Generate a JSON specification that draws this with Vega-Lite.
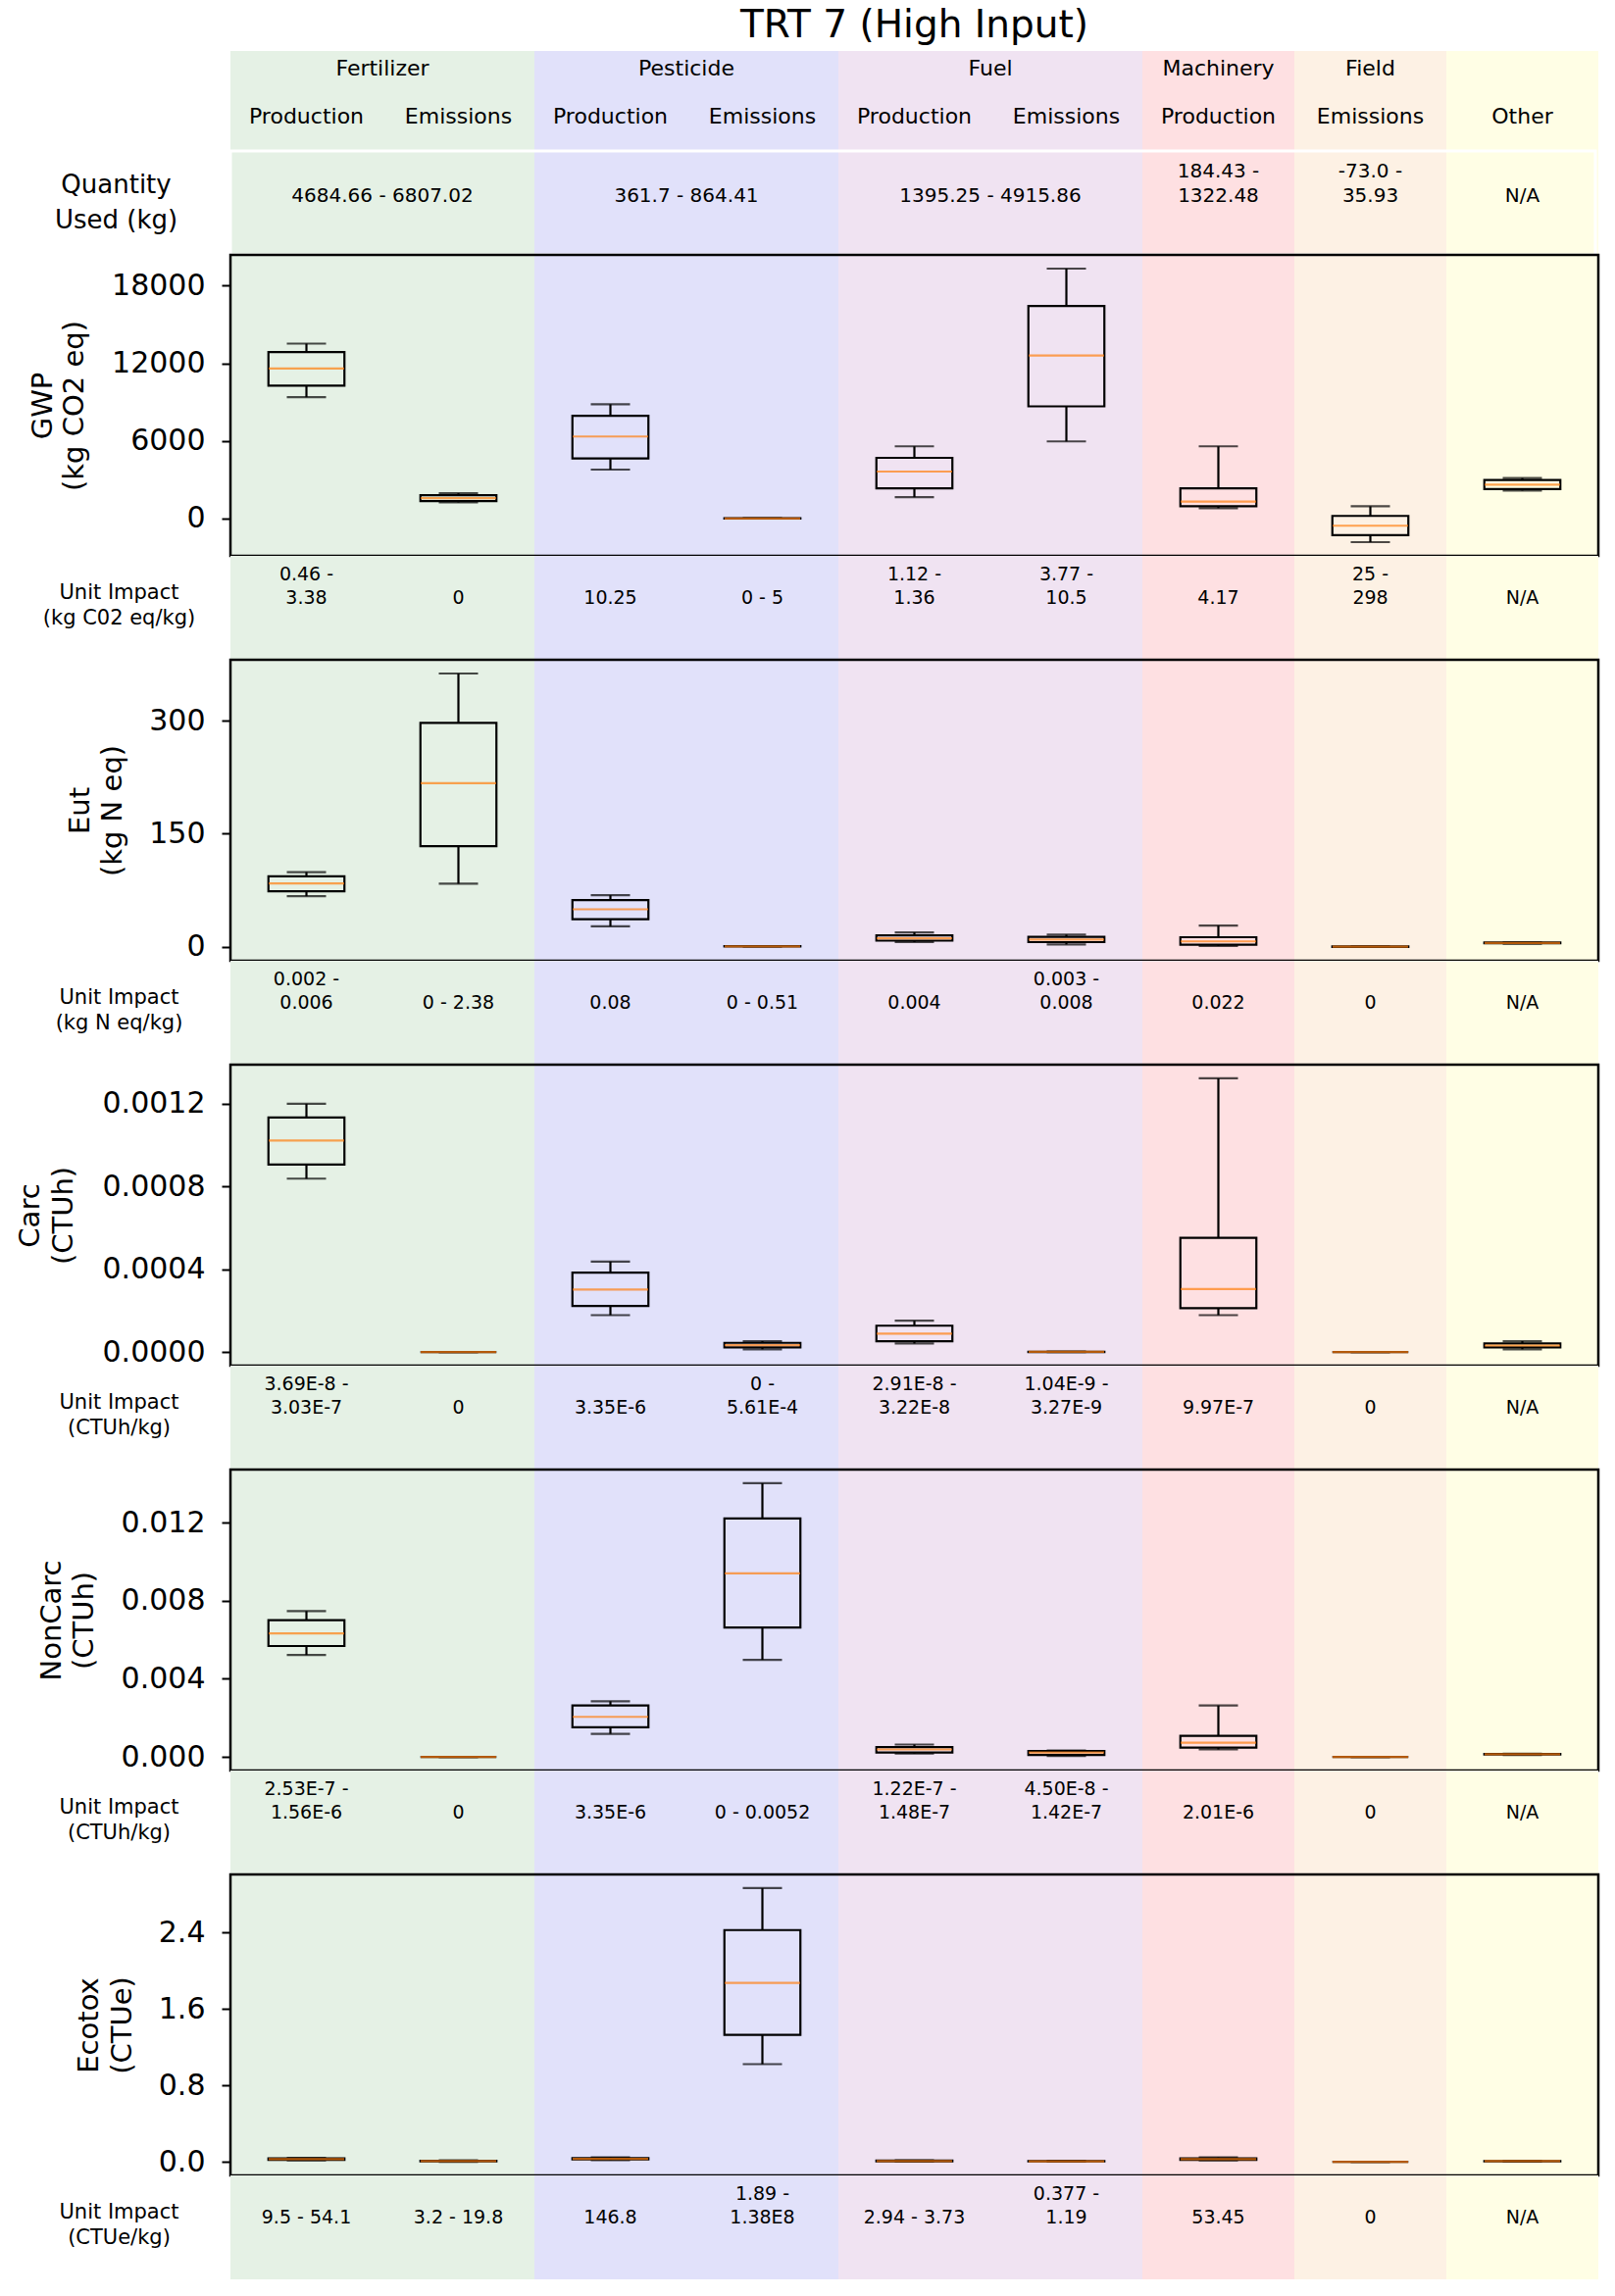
{
"$schema": "https://vega.github.io/schema/vega-lite/v6.json",
"background": "white",
"padding": {"left": 16, "top": 6, "right": 5, "bottom": 5},
"spacing": 0,
"bounds": "flush",
"title": {"text": "TRT 7 (High Input)", "font": "DejaVu Sans", "fontSize": 39, "fontWeight": "normal", "color": "black", "anchor": "middle", "frame": "group", "offset": 6.5},
"config": {"view": {"stroke": null}, "text": {"font": "DejaVu Sans", "color": "black"}},
"datasets": {
"bg": [{"col":"FP","grp":"Fertilizer"},{"col":"FE","grp":"Fertilizer"},{"col":"PP","grp":"Pesticide"},{"col":"PE","grp":"Pesticide"},{"col":"FuP","grp":"Fuel"},{"col":"FuE","grp":"Fuel"},{"col":"MP","grp":"Machinery"},{"col":"FdE","grp":"Field"},{"col":"O","grp":"Other"}],
"frame": [{"f": 1}],
"grp2": [{"col":"FP","label":"Fertilizer","qty":"4684.66 - 6807.02"},{"col":"PP","label":"Pesticide","qty":"361.7 - 864.41"},{"col":"FuP","label":"Fuel","qty":"1395.25 - 4915.86"}],
"grp1": [{"col":"MP","label":"Machinery","qty":"184.43 -\n1322.48"},{"col":"FdE","label":"Field","qty":"-73.0 -\n35.93"},{"col":"O","label":"","qty":"N/A"}],
"subs": [{"col":"FP","sub":"Production"},{"col":"FE","sub":"Emissions"},{"col":"PP","sub":"Production"},{"col":"PE","sub":"Emissions"},{"col":"FuP","sub":"Production"},{"col":"FuE","sub":"Emissions"},{"col":"MP","sub":"Production"},{"col":"FdE","sub":"Emissions"},{"col":"O","sub":"Other"}],
"boxes": [
{"impact":"GWP","col":"FP","lo":9380,"q1":10270,"med":11590,"q3":12860,"hi":13520},
{"impact":"GWP","col":"FE","lo":1250,"q1":1350,"med":1570,"q3":1800,"hi":1950},
{"impact":"GWP","col":"PP","lo":3780,"q1":4640,"med":6340,"q3":7940,"hi":8830},
{"impact":"GWP","col":"PE","lo":0,"q1":0,"med":5,"q3":15,"hi":30},
{"impact":"GWP","col":"FuP","lo":1650,"q1":2330,"med":3630,"q3":4690,"hi":5580},
{"impact":"GWP","col":"FuE","lo":5960,"q1":8670,"med":12600,"q3":16430,"hi":19320},
{"impact":"GWP","col":"MP","lo":800,"q1":950,"med":1300,"q3":2330,"hi":5580},
{"impact":"GWP","col":"FdE","lo":-1830,"q1":-1290,"med":-560,"q3":200,"hi":940},
{"impact":"GWP","col":"O","lo":2160,"q1":2280,"med":2610,"q3":2970,"hi":3120},
{"impact":"Eut","col":"FP","lo":67,"q1":73.5,"med":84,"q3":93.5,"hi":99},
{"impact":"Eut","col":"FE","lo":83.5,"q1":133.5,"med":217,"q3":297,"hi":362.6},
{"impact":"Eut","col":"PP","lo":27,"q1":36.5,"med":49.6,"q3":61.7,"hi":68.3},
{"impact":"Eut","col":"PE","lo":0,"q1":0.2,"med":0.4,"q3":0.6,"hi":0.8},
{"impact":"Eut","col":"FuP","lo":6,"q1":8,"med":11,"q3":15,"hi":19},
{"impact":"Eut","col":"FuE","lo":3,"q1":6,"med":9.5,"q3":13,"hi":16},
{"impact":"Eut","col":"MP","lo":1,"q1":2.5,"med":7,"q3":12.5,"hi":28},
{"impact":"Eut","col":"FdE","lo":-0.5,"q1":-0.3,"med":0,"q3":0.3,"hi":0.5},
{"impact":"Eut","col":"O","lo":4,"q1":4.5,"med":5,"q3":5.5,"hi":6},
{"impact":"Carc","col":"FP","lo":0.000838,"q1":0.000906,"med":0.001022,"q3":0.001134,"hi":0.0012},
{"impact":"Carc","col":"FE","lo":0,"q1":0,"med":0,"q3":0,"hi":0},
{"impact":"Carc","col":"PP","lo":0.000178,"q1":0.000222,"med":0.000302,"q3":0.000384,"hi":0.000437},
{"impact":"Carc","col":"PE","lo":0.000013,"q1":0.000022,"med":0.000033,"q3":0.000044,"hi":0.000052},
{"impact":"Carc","col":"FuP","lo":0.000041,"q1":0.000052,"med":0.000088,"q3":0.000127,"hi":0.000151},
{"impact":"Carc","col":"FuE","lo":0,"q1":0,"med":0.0000005,"q3":0.000001,"hi":0.0000015},
{"impact":"Carc","col":"MP","lo":0.000178,"q1":0.000212,"med":0.000304,"q3":0.000552,"hi":0.001323},
{"impact":"Carc","col":"FdE","lo":0,"q1":0,"med":0,"q3":0,"hi":0},
{"impact":"Carc","col":"O","lo":0.000013,"q1":0.000022,"med":0.000031,"q3":0.000041,"hi":0.000052},
{"impact":"NonCarc","col":"FP","lo":0.00522,"q1":0.00568,"med":0.00633,"q3":0.0070,"hi":0.00747},
{"impact":"NonCarc","col":"FE","lo":0,"q1":0,"med":0,"q3":0,"hi":0},
{"impact":"NonCarc","col":"PP","lo":0.00118,"q1":0.00152,"med":0.00205,"q3":0.00263,"hi":0.00285},
{"impact":"NonCarc","col":"PE","lo":0.00497,"q1":0.00663,"med":0.0094,"q3":0.01222,"hi":0.01402},
{"impact":"NonCarc","col":"FuP","lo":0.00017,"q1":0.00022,"med":0.00038,"q3":0.0005,"hi":0.00063},
{"impact":"NonCarc","col":"FuE","lo":0.00005,"q1":0.0001,"med":0.00022,"q3":0.0003,"hi":0.00033},
{"impact":"NonCarc","col":"MP","lo":0.00038,"q1":0.00047,"med":0.00072,"q3":0.00108,"hi":0.00263},
{"impact":"NonCarc","col":"FdE","lo":0,"q1":0,"med":0,"q3":0,"hi":0},
{"impact":"NonCarc","col":"O","lo":0.0001,"q1":0.00012,"med":0.00013,"q3":0.00015,"hi":0.00016},
{"impact":"Ecotox","col":"FP","lo":0.015,"q1":0.02,"med":0.027,"q3":0.035,"hi":0.04},
{"impact":"Ecotox","col":"FE","lo":0,"q1":0.003,"med":0.006,"q3":0.01,"hi":0.015},
{"impact":"Ecotox","col":"PP","lo":0.018,"q1":0.024,"med":0.03,"q3":0.038,"hi":0.045},
{"impact":"Ecotox","col":"PE","lo":1.021,"q1":1.328,"med":1.872,"q3":2.424,"hi":2.863},
{"impact":"Ecotox","col":"FuP","lo":0.002,"q1":0.005,"med":0.008,"q3":0.012,"hi":0.015},
{"impact":"Ecotox","col":"FuE","lo":0.001,"q1":0.003,"med":0.005,"q3":0.008,"hi":0.01},
{"impact":"Ecotox","col":"MP","lo":0.015,"q1":0.02,"med":0.027,"q3":0.035,"hi":0.045},
{"impact":"Ecotox","col":"FdE","lo":0,"q1":0,"med":0,"q3":0,"hi":0},
{"impact":"Ecotox","col":"O","lo":0.002,"q1":0.004,"med":0.006,"q3":0.008,"hi":0.01}
],
"units": [
{"impact":"GWP","col":"FP","txt":"0.46 -\n3.38"},{"impact":"GWP","col":"FE","txt":"0"},{"impact":"GWP","col":"PP","txt":"10.25"},{"impact":"GWP","col":"PE","txt":"0 - 5"},{"impact":"GWP","col":"FuP","txt":"1.12 -\n1.36"},{"impact":"GWP","col":"FuE","txt":"3.77 -\n10.5"},{"impact":"GWP","col":"MP","txt":"4.17"},{"impact":"GWP","col":"FdE","txt":"25 -\n298"},{"impact":"GWP","col":"O","txt":"N/A"},
{"impact":"Eut","col":"FP","txt":"0.002 -\n0.006"},{"impact":"Eut","col":"FE","txt":"0 - 2.38"},{"impact":"Eut","col":"PP","txt":"0.08"},{"impact":"Eut","col":"PE","txt":"0 - 0.51"},{"impact":"Eut","col":"FuP","txt":"0.004"},{"impact":"Eut","col":"FuE","txt":"0.003 -\n0.008"},{"impact":"Eut","col":"MP","txt":"0.022"},{"impact":"Eut","col":"FdE","txt":"0"},{"impact":"Eut","col":"O","txt":"N/A"},
{"impact":"Carc","col":"FP","txt":"3.69E-8 -\n3.03E-7"},{"impact":"Carc","col":"FE","txt":"0"},{"impact":"Carc","col":"PP","txt":"3.35E-6"},{"impact":"Carc","col":"PE","txt":"0 -\n5.61E-4"},{"impact":"Carc","col":"FuP","txt":"2.91E-8 -\n3.22E-8"},{"impact":"Carc","col":"FuE","txt":"1.04E-9 -\n3.27E-9"},{"impact":"Carc","col":"MP","txt":"9.97E-7"},{"impact":"Carc","col":"FdE","txt":"0"},{"impact":"Carc","col":"O","txt":"N/A"},
{"impact":"NonCarc","col":"FP","txt":"2.53E-7 -\n1.56E-6"},{"impact":"NonCarc","col":"FE","txt":"0"},{"impact":"NonCarc","col":"PP","txt":"3.35E-6"},{"impact":"NonCarc","col":"PE","txt":"0 - 0.0052"},{"impact":"NonCarc","col":"FuP","txt":"1.22E-7 -\n1.48E-7"},{"impact":"NonCarc","col":"FuE","txt":"4.50E-8 -\n1.42E-7"},{"impact":"NonCarc","col":"MP","txt":"2.01E-6"},{"impact":"NonCarc","col":"FdE","txt":"0"},{"impact":"NonCarc","col":"O","txt":"N/A"},
{"impact":"Ecotox","col":"FP","txt":"9.5 - 54.1"},{"impact":"Ecotox","col":"FE","txt":"3.2 - 19.8"},{"impact":"Ecotox","col":"PP","txt":"146.8"},{"impact":"Ecotox","col":"PE","txt":"1.89 -\n1.38E8"},{"impact":"Ecotox","col":"FuP","txt":"2.94 - 3.73"},{"impact":"Ecotox","col":"FuE","txt":"0.377 -\n1.19"},{"impact":"Ecotox","col":"MP","txt":"53.45"},{"impact":"Ecotox","col":"FdE","txt":"0"},{"impact":"Ecotox","col":"O","txt":"N/A"}
]
},
"vconcat": [
{"width": 1395, "height": 102,
 "layer": [
  {"data": {"name": "bg"}, "mark": {"type": "rect"}, "encoding": {"x": {"field":"col","type":"nominal","scale":{"type":"band","domain":["FP","FE","PP","PE","FuP","FuE","MP","FdE","O"],"paddingInner":0,"paddingOuter":0},"axis":null}, "color": {"field":"grp","type":"nominal","scale":{"domain":["Fertilizer","Pesticide","Fuel","Machinery","Field","Other"],"range":["#e5f1e5","#e1e1fa","#f0e3f2","#fee0e2","#fdf1e4","#fffee5"]},"legend":null}}},
  {"data": {"name": "grp2"}, "mark": {"type": "text", "fontSize": 22, "dy": -33}, "encoding": {"x": {"field":"col","type":"nominal","bandPosition":1,"scale":{"type":"band","domain":["FP","FE","PP","PE","FuP","FuE","MP","FdE","O"],"paddingInner":0,"paddingOuter":0},"axis":null}, "text": {"field": "label"}}},
  {"data": {"name": "grp1"}, "mark": {"type": "text", "fontSize": 22, "dy": -33}, "encoding": {"x": {"field":"col","type":"nominal","scale":{"type":"band","domain":["FP","FE","PP","PE","FuP","FuE","MP","FdE","O"],"paddingInner":0,"paddingOuter":0},"axis":null}, "text": {"field": "label"}}},
  {"data": {"name": "subs"}, "mark": {"type": "text", "fontSize": 22, "dy": 16}, "encoding": {"x": {"field":"col","type":"nominal","scale":{"type":"band","domain":["FP","FE","PP","PE","FuP","FuE","MP","FdE","O"],"paddingInner":0,"paddingOuter":0},"axis":null}, "text": {"field": "sub"}}}
 ]},
{"width": 1395, "height": 106,
 "layer": [
  {"data": {"name": "bg"}, "mark": {"type": "rect"}, "encoding": {"x": {"field":"col","type":"nominal","scale":{"type":"band","domain":["FP","FE","PP","PE","FuP","FuE","MP","FdE","O"],"paddingInner":0,"paddingOuter":0},"axis":null}, "color": {"field":"grp","type":"nominal","scale":{"domain":["Fertilizer","Pesticide","Fuel","Machinery","Field","Other"],"range":["#e5f1e5","#e1e1fa","#f0e3f2","#fee0e2","#fdf1e4","#fffee5"]},"legend":null}}},
  {"data": {"name": "grp2"}, "mark": {"type": "text", "fontSize": 20, "baseline": "bottom", "dy": 3}, "encoding": {"x": {"field":"col","type":"nominal","bandPosition":1,"scale":{"type":"band","domain":["FP","FE","PP","PE","FuP","FuE","MP","FdE","O"],"paddingInner":0,"paddingOuter":0},"axis":null}, "y": {"datum": "q", "type": "nominal", "axis": {"title": ["Quantity", "Used (kg)"], "labels": false, "ticks": false, "domain": false, "grid": false, "titleAngle": 0, "titleAlign": "center", "titleBaseline": "middle", "titleX": -117, "titleY": 34, "titleFont": "DejaVu Sans", "titleFontSize": 26, "titleLineHeight": 36, "titleFontWeight": "normal", "titleColor": "black"}}, "text": {"field": "qty"}}},
  {"data": {"name": "grp1"}, "transform": [{"filter": "indexof(datum.qty, '\\n') < 0"}], "mark": {"type": "text", "fontSize": 20, "lineHeight": 25, "lineBreak": "\n", "baseline": "bottom", "dy": 3}, "encoding": {"x": {"field":"col","type":"nominal","scale":{"type":"band","domain":["FP","FE","PP","PE","FuP","FuE","MP","FdE","O"],"paddingInner":0,"paddingOuter":0},"axis":null}, "y": {"datum": "q", "type": "nominal", "axis": {"title": ["Quantity", "Used (kg)"], "labels": false, "ticks": false, "domain": false, "grid": false, "titleAngle": 0, "titleAlign": "center", "titleBaseline": "middle", "titleX": -117, "titleY": 34, "titleFont": "DejaVu Sans", "titleFontSize": 26, "titleLineHeight": 36, "titleFontWeight": "normal", "titleColor": "black"}}, "text": {"field": "qty"}}},
  {"data": {"name": "grp1"}, "transform": [{"filter": "indexof(datum.qty, '\\n') >= 0"}], "mark": {"type": "text", "fontSize": 20, "lineHeight": 25, "lineBreak": "\n", "baseline": "bottom", "dy": -22}, "encoding": {"x": {"field":"col","type":"nominal","scale":{"type":"band","domain":["FP","FE","PP","PE","FuP","FuE","MP","FdE","O"],"paddingInner":0,"paddingOuter":0},"axis":null}, "y": {"datum": "q", "type": "nominal", "axis": {"title": ["Quantity", "Used (kg)"], "labels": false, "ticks": false, "domain": false, "grid": false, "titleAngle": 0, "titleAlign": "center", "titleBaseline": "middle", "titleX": -117, "titleY": 34, "titleFont": "DejaVu Sans", "titleFontSize": 26, "titleLineHeight": 36, "titleFontWeight": "normal", "titleColor": "black"}}, "text": {"field": "qty"}}},
  {"data": {"name": "frame"}, "mark": {"type": "rect", "fill": "transparent", "stroke": "white", "strokeWidth": 3, "xOffset": -3, "x2Offset": 3, "y2Offset": 3}, "encoding": {}}
 ]},
{"width": 1395, "height": 307,
 "layer": [
  {"data": {"name": "bg"}, "mark": {"type": "rect"}, "encoding": {"x": {"field":"col","type":"nominal","scale":{"type":"band","domain":["FP","FE","PP","PE","FuP","FuE","MP","FdE","O"],"paddingInner":0,"paddingOuter":0},"axis":null}, "color": {"field":"grp","type":"nominal","scale":{"domain":["Fertilizer","Pesticide","Fuel","Machinery","Field","Other"],"range":["#e5f1e5","#e1e1fa","#f0e3f2","#fee0e2","#fdf1e4","#fffee5"]},"legend":null}}},
  {"data": {"name": "boxes"}, "transform": [{"filter": "datum.impact === 'GWP'"}],
   "encoding": {"x": {"field":"col","type":"nominal","scale":{"type":"band","domain":["FP","FE","PP","PE","FuP","FuE","MP","FdE","O"],"paddingInner":0,"paddingOuter":0},"axis":null}},
   "layer": [
    {"mark": {"type": "rule", "color": "black", "strokeWidth": 2.2}, "encoding": {"y": {"field": "lo", "type": "quantitative", "scale": {"domain": [-2890, 20380], "nice": false, "zero": false}, "axis": {"values": [0, 6000, 12000, 18000], "format": "d", "title": ["GWP", "(kg CO2 eq)"], "grid": false, "domain": false, "tickColor": "black", "tickSize": 9, "tickWidth": 2, "labelColor": "black", "labelFont": "DejaVu Sans", "labelFontSize": 30, "labelPadding": 17, "labelOverlap": false, "titleFont": "DejaVu Sans", "titleFontSize": 29, "titleFontWeight": "normal", "titleColor": "black", "titlePadding": 23, "titleLineHeight": 32}}, "y2": {"field": "q1"}}},
    {"mark": {"type": "rule", "color": "black", "strokeWidth": 2.2}, "encoding": {"y": {"field": "q3", "type": "quantitative"}, "y2": {"field": "hi"}}},
    {"mark": {"type": "bar", "fill": "transparent", "stroke": "black", "strokeWidth": 2.2, "width": {"band": 0.5}}, "encoding": {"y": {"field": "q1", "type": "quantitative"}, "y2": {"field": "q3"}}},
    {"mark": {"type": "tick", "color": "black", "thickness": 2.2, "size": 40}, "encoding": {"y": {"field": "lo", "type": "quantitative"}}},
    {"mark": {"type": "tick", "color": "black", "thickness": 2.2, "size": 40}, "encoding": {"y": {"field": "hi", "type": "quantitative"}}},
    {"mark": {"type": "tick", "color": "#ff7f0e", "thickness": 2.2, "size": 77}, "encoding": {"y": {"field": "med", "type": "quantitative"}}}
   ]},
  {"data": {"name": "frame"}, "mark": {"type": "rect", "fill": "transparent", "stroke": "black", "strokeWidth": 2.5, "y2Offset": -1}, "encoding": {}}
 ]},
{"width": 1395, "height": 106,
 "layer": [
  {"data": {"name": "bg"}, "mark": {"type": "rect"}, "encoding": {"x": {"field":"col","type":"nominal","scale":{"type":"band","domain":["FP","FE","PP","PE","FuP","FuE","MP","FdE","O"],"paddingInner":0,"paddingOuter":0},"axis":null}, "color": {"field":"grp","type":"nominal","scale":{"domain":["Fertilizer","Pesticide","Fuel","Machinery","Field","Other"],"range":["#e5f1e5","#e1e1fa","#f0e3f2","#fee0e2","#fdf1e4","#fffee5"]},"legend":null}}},
  {"data": {"name": "units"}, "transform": [{"filter": "datum.impact === 'GWP' && indexof(datum.txt, '\\n') < 0"}], "mark": {"type": "text", "fontSize": 19, "lineHeight": 24, "lineBreak": "\n", "baseline": "bottom", "dy": 0}, "encoding": {"x": {"field":"col","type":"nominal","scale":{"type":"band","domain":["FP","FE","PP","PE","FuP","FuE","MP","FdE","O"],"paddingInner":0,"paddingOuter":0},"axis":null}, "y": {"datum": "u", "type": "nominal", "axis": {"title": ["Unit Impact", "(kg C02 eq/kg)"], "labels": false, "ticks": false, "domain": false, "grid": false, "titleAngle": 0, "titleAlign": "center", "titleBaseline": "middle", "titleX": -114, "titleY": 37, "titleFont": "DejaVu Sans", "titleFontSize": 21, "titleLineHeight": 26, "titleFontWeight": "normal", "titleColor": "black"}}, "text": {"field": "txt"}}},
  {"data": {"name": "units"}, "transform": [{"filter": "datum.impact === 'GWP' && indexof(datum.txt, '\\n') >= 0"}], "mark": {"type": "text", "fontSize": 19, "lineHeight": 24, "lineBreak": "\n", "baseline": "bottom", "dy": -24}, "encoding": {"x": {"field":"col","type":"nominal","scale":{"type":"band","domain":["FP","FE","PP","PE","FuP","FuE","MP","FdE","O"],"paddingInner":0,"paddingOuter":0},"axis":null}, "y": {"datum": "u", "type": "nominal", "axis": {"title": ["Unit Impact", "(kg C02 eq/kg)"], "labels": false, "ticks": false, "domain": false, "grid": false, "titleAngle": 0, "titleAlign": "center", "titleBaseline": "middle", "titleX": -114, "titleY": 37, "titleFont": "DejaVu Sans", "titleFontSize": 21, "titleLineHeight": 26, "titleFontWeight": "normal", "titleColor": "black"}}, "text": {"field": "txt"}}}
 ]},
{"width": 1395, "height": 307,
 "layer": [
  {"data": {"name": "bg"}, "mark": {"type": "rect"}, "encoding": {"x": {"field":"col","type":"nominal","scale":{"type":"band","domain":["FP","FE","PP","PE","FuP","FuE","MP","FdE","O"],"paddingInner":0,"paddingOuter":0},"axis":null}, "color": {"field":"grp","type":"nominal","scale":{"domain":["Fertilizer","Pesticide","Fuel","Machinery","Field","Other"],"range":["#e5f1e5","#e1e1fa","#f0e3f2","#fee0e2","#fdf1e4","#fffee5"]},"legend":null}}},
  {"data": {"name": "boxes"}, "transform": [{"filter": "datum.impact === 'Eut'"}],
   "encoding": {"x": {"field":"col","type":"nominal","scale":{"type":"band","domain":["FP","FE","PP","PE","FuP","FuE","MP","FdE","O"],"paddingInner":0,"paddingOuter":0},"axis":null}},
   "layer": [
    {"mark": {"type": "rule", "color": "black", "strokeWidth": 2.2}, "encoding": {"y": {"field": "lo", "type": "quantitative", "scale": {"domain": [-18.7, 380.8], "nice": false, "zero": false}, "axis": {"values": [0, 150, 300], "format": "d", "title": ["Eut", "(kg N eq)"], "grid": false, "domain": false, "tickColor": "black", "tickSize": 9, "tickWidth": 2, "labelColor": "black", "labelFont": "DejaVu Sans", "labelFontSize": 30, "labelPadding": 17, "labelOverlap": false, "titleFont": "DejaVu Sans", "titleFontSize": 29, "titleFontWeight": "normal", "titleColor": "black", "titlePadding": 22, "titleLineHeight": 33}}, "y2": {"field": "q1"}}},
    {"mark": {"type": "rule", "color": "black", "strokeWidth": 2.2}, "encoding": {"y": {"field": "q3", "type": "quantitative"}, "y2": {"field": "hi"}}},
    {"mark": {"type": "bar", "fill": "transparent", "stroke": "black", "strokeWidth": 2.2, "width": {"band": 0.5}}, "encoding": {"y": {"field": "q1", "type": "quantitative"}, "y2": {"field": "q3"}}},
    {"mark": {"type": "tick", "color": "black", "thickness": 2.2, "size": 40}, "encoding": {"y": {"field": "lo", "type": "quantitative"}}},
    {"mark": {"type": "tick", "color": "black", "thickness": 2.2, "size": 40}, "encoding": {"y": {"field": "hi", "type": "quantitative"}}},
    {"mark": {"type": "tick", "color": "#ff7f0e", "thickness": 2.2, "size": 77}, "encoding": {"y": {"field": "med", "type": "quantitative"}}}
   ]},
  {"data": {"name": "frame"}, "mark": {"type": "rect", "fill": "transparent", "stroke": "black", "strokeWidth": 2.5, "y2Offset": -1}, "encoding": {}}
 ]},
{"width": 1395, "height": 106,
 "layer": [
  {"data": {"name": "bg"}, "mark": {"type": "rect"}, "encoding": {"x": {"field":"col","type":"nominal","scale":{"type":"band","domain":["FP","FE","PP","PE","FuP","FuE","MP","FdE","O"],"paddingInner":0,"paddingOuter":0},"axis":null}, "color": {"field":"grp","type":"nominal","scale":{"domain":["Fertilizer","Pesticide","Fuel","Machinery","Field","Other"],"range":["#e5f1e5","#e1e1fa","#f0e3f2","#fee0e2","#fdf1e4","#fffee5"]},"legend":null}}},
  {"data": {"name": "units"}, "transform": [{"filter": "datum.impact === 'Eut' && indexof(datum.txt, '\\n') < 0"}], "mark": {"type": "text", "fontSize": 19, "lineHeight": 24, "lineBreak": "\n", "baseline": "bottom", "dy": 0}, "encoding": {"x": {"field":"col","type":"nominal","scale":{"type":"band","domain":["FP","FE","PP","PE","FuP","FuE","MP","FdE","O"],"paddingInner":0,"paddingOuter":0},"axis":null}, "y": {"datum": "u", "type": "nominal", "axis": {"title": ["Unit Impact", "(kg N eq/kg)"], "labels": false, "ticks": false, "domain": false, "grid": false, "titleAngle": 0, "titleAlign": "center", "titleBaseline": "middle", "titleX": -114, "titleY": 37, "titleFont": "DejaVu Sans", "titleFontSize": 21, "titleLineHeight": 26, "titleFontWeight": "normal", "titleColor": "black"}}, "text": {"field": "txt"}}},
  {"data": {"name": "units"}, "transform": [{"filter": "datum.impact === 'Eut' && indexof(datum.txt, '\\n') >= 0"}], "mark": {"type": "text", "fontSize": 19, "lineHeight": 24, "lineBreak": "\n", "baseline": "bottom", "dy": -24}, "encoding": {"x": {"field":"col","type":"nominal","scale":{"type":"band","domain":["FP","FE","PP","PE","FuP","FuE","MP","FdE","O"],"paddingInner":0,"paddingOuter":0},"axis":null}, "y": {"datum": "u", "type": "nominal", "axis": {"title": ["Unit Impact", "(kg N eq/kg)"], "labels": false, "ticks": false, "domain": false, "grid": false, "titleAngle": 0, "titleAlign": "center", "titleBaseline": "middle", "titleX": -114, "titleY": 37, "titleFont": "DejaVu Sans", "titleFontSize": 21, "titleLineHeight": 26, "titleFontWeight": "normal", "titleColor": "black"}}, "text": {"field": "txt"}}}
 ]},
{"width": 1395, "height": 307,
 "layer": [
  {"data": {"name": "bg"}, "mark": {"type": "rect"}, "encoding": {"x": {"field":"col","type":"nominal","scale":{"type":"band","domain":["FP","FE","PP","PE","FuP","FuE","MP","FdE","O"],"paddingInner":0,"paddingOuter":0},"axis":null}, "color": {"field":"grp","type":"nominal","scale":{"domain":["Fertilizer","Pesticide","Fuel","Machinery","Field","Other"],"range":["#e5f1e5","#e1e1fa","#f0e3f2","#fee0e2","#fdf1e4","#fffee5"]},"legend":null}}},
  {"data": {"name": "boxes"}, "transform": [{"filter": "datum.impact === 'Carc'"}],
   "encoding": {"x": {"field":"col","type":"nominal","scale":{"type":"band","domain":["FP","FE","PP","PE","FuP","FuE","MP","FdE","O"],"paddingInner":0,"paddingOuter":0},"axis":null}},
   "layer": [
    {"mark": {"type": "rule", "color": "black", "strokeWidth": 2.2}, "encoding": {"y": {"field": "lo", "type": "quantitative", "scale": {"domain": [-0.0000662, 0.0013892], "nice": false, "zero": false}, "axis": {"values": [0, 0.0004, 0.0008, 0.0012], "format": ".4f", "title": ["Carc", "(CTUh)"], "grid": false, "domain": false, "tickColor": "black", "tickSize": 9, "tickWidth": 2, "labelColor": "black", "labelFont": "DejaVu Sans", "labelFontSize": 30, "labelPadding": 17, "labelOverlap": false, "titleFont": "DejaVu Sans", "titleFontSize": 29, "titleFontWeight": "normal", "titleColor": "black", "titlePadding": 25, "titleLineHeight": 34}}, "y2": {"field": "q1"}}},
    {"mark": {"type": "rule", "color": "black", "strokeWidth": 2.2}, "encoding": {"y": {"field": "q3", "type": "quantitative"}, "y2": {"field": "hi"}}},
    {"mark": {"type": "bar", "fill": "transparent", "stroke": "black", "strokeWidth": 2.2, "width": {"band": 0.5}}, "encoding": {"y": {"field": "q1", "type": "quantitative"}, "y2": {"field": "q3"}}},
    {"mark": {"type": "tick", "color": "black", "thickness": 2.2, "size": 40}, "encoding": {"y": {"field": "lo", "type": "quantitative"}}},
    {"mark": {"type": "tick", "color": "black", "thickness": 2.2, "size": 40}, "encoding": {"y": {"field": "hi", "type": "quantitative"}}},
    {"mark": {"type": "tick", "color": "#ff7f0e", "thickness": 2.2, "size": 77}, "encoding": {"y": {"field": "med", "type": "quantitative"}}}
   ]},
  {"data": {"name": "frame"}, "mark": {"type": "rect", "fill": "transparent", "stroke": "black", "strokeWidth": 2.5, "y2Offset": -1}, "encoding": {}}
 ]},
{"width": 1395, "height": 106,
 "layer": [
  {"data": {"name": "bg"}, "mark": {"type": "rect"}, "encoding": {"x": {"field":"col","type":"nominal","scale":{"type":"band","domain":["FP","FE","PP","PE","FuP","FuE","MP","FdE","O"],"paddingInner":0,"paddingOuter":0},"axis":null}, "color": {"field":"grp","type":"nominal","scale":{"domain":["Fertilizer","Pesticide","Fuel","Machinery","Field","Other"],"range":["#e5f1e5","#e1e1fa","#f0e3f2","#fee0e2","#fdf1e4","#fffee5"]},"legend":null}}},
  {"data": {"name": "units"}, "transform": [{"filter": "datum.impact === 'Carc' && indexof(datum.txt, '\\n') < 0"}], "mark": {"type": "text", "fontSize": 19, "lineHeight": 24, "lineBreak": "\n", "baseline": "bottom", "dy": 0}, "encoding": {"x": {"field":"col","type":"nominal","scale":{"type":"band","domain":["FP","FE","PP","PE","FuP","FuE","MP","FdE","O"],"paddingInner":0,"paddingOuter":0},"axis":null}, "y": {"datum": "u", "type": "nominal", "axis": {"title": ["Unit Impact", "(CTUh/kg)"], "labels": false, "ticks": false, "domain": false, "grid": false, "titleAngle": 0, "titleAlign": "center", "titleBaseline": "middle", "titleX": -114, "titleY": 37, "titleFont": "DejaVu Sans", "titleFontSize": 21, "titleLineHeight": 26, "titleFontWeight": "normal", "titleColor": "black"}}, "text": {"field": "txt"}}},
  {"data": {"name": "units"}, "transform": [{"filter": "datum.impact === 'Carc' && indexof(datum.txt, '\\n') >= 0"}], "mark": {"type": "text", "fontSize": 19, "lineHeight": 24, "lineBreak": "\n", "baseline": "bottom", "dy": -24}, "encoding": {"x": {"field":"col","type":"nominal","scale":{"type":"band","domain":["FP","FE","PP","PE","FuP","FuE","MP","FdE","O"],"paddingInner":0,"paddingOuter":0},"axis":null}, "y": {"datum": "u", "type": "nominal", "axis": {"title": ["Unit Impact", "(CTUh/kg)"], "labels": false, "ticks": false, "domain": false, "grid": false, "titleAngle": 0, "titleAlign": "center", "titleBaseline": "middle", "titleX": -114, "titleY": 37, "titleFont": "DejaVu Sans", "titleFontSize": 21, "titleLineHeight": 26, "titleFontWeight": "normal", "titleColor": "black"}}, "text": {"field": "txt"}}}
 ]},
{"width": 1395, "height": 307,
 "layer": [
  {"data": {"name": "bg"}, "mark": {"type": "rect"}, "encoding": {"x": {"field":"col","type":"nominal","scale":{"type":"band","domain":["FP","FE","PP","PE","FuP","FuE","MP","FdE","O"],"paddingInner":0,"paddingOuter":0},"axis":null}, "color": {"field":"grp","type":"nominal","scale":{"domain":["Fertilizer","Pesticide","Fuel","Machinery","Field","Other"],"range":["#e5f1e5","#e1e1fa","#f0e3f2","#fee0e2","#fdf1e4","#fffee5"]},"legend":null}}},
  {"data": {"name": "boxes"}, "transform": [{"filter": "datum.impact === 'NonCarc'"}],
   "encoding": {"x": {"field":"col","type":"nominal","scale":{"type":"band","domain":["FP","FE","PP","PE","FuP","FuE","MP","FdE","O"],"paddingInner":0,"paddingOuter":0},"axis":null}},
   "layer": [
    {"mark": {"type": "rule", "color": "black", "strokeWidth": 2.2}, "encoding": {"y": {"field": "lo", "type": "quantitative", "scale": {"domain": [-0.000701, 0.014721], "nice": false, "zero": false}, "axis": {"values": [0, 0.004, 0.008, 0.012], "format": ".3f", "title": ["NonCarc", "(CTUh)"], "grid": false, "domain": false, "tickColor": "black", "tickSize": 9, "tickWidth": 2, "labelColor": "black", "labelFont": "DejaVu Sans", "labelFontSize": 30, "labelPadding": 17, "labelOverlap": false, "titleFont": "DejaVu Sans", "titleFontSize": 29, "titleFontWeight": "normal", "titleColor": "black", "titlePadding": 23, "titleLineHeight": 33}}, "y2": {"field": "q1"}}},
    {"mark": {"type": "rule", "color": "black", "strokeWidth": 2.2}, "encoding": {"y": {"field": "q3", "type": "quantitative"}, "y2": {"field": "hi"}}},
    {"mark": {"type": "bar", "fill": "transparent", "stroke": "black", "strokeWidth": 2.2, "width": {"band": 0.5}}, "encoding": {"y": {"field": "q1", "type": "quantitative"}, "y2": {"field": "q3"}}},
    {"mark": {"type": "tick", "color": "black", "thickness": 2.2, "size": 40}, "encoding": {"y": {"field": "lo", "type": "quantitative"}}},
    {"mark": {"type": "tick", "color": "black", "thickness": 2.2, "size": 40}, "encoding": {"y": {"field": "hi", "type": "quantitative"}}},
    {"mark": {"type": "tick", "color": "#ff7f0e", "thickness": 2.2, "size": 77}, "encoding": {"y": {"field": "med", "type": "quantitative"}}}
   ]},
  {"data": {"name": "frame"}, "mark": {"type": "rect", "fill": "transparent", "stroke": "black", "strokeWidth": 2.5, "y2Offset": -1}, "encoding": {}}
 ]},
{"width": 1395, "height": 106,
 "layer": [
  {"data": {"name": "bg"}, "mark": {"type": "rect"}, "encoding": {"x": {"field":"col","type":"nominal","scale":{"type":"band","domain":["FP","FE","PP","PE","FuP","FuE","MP","FdE","O"],"paddingInner":0,"paddingOuter":0},"axis":null}, "color": {"field":"grp","type":"nominal","scale":{"domain":["Fertilizer","Pesticide","Fuel","Machinery","Field","Other"],"range":["#e5f1e5","#e1e1fa","#f0e3f2","#fee0e2","#fdf1e4","#fffee5"]},"legend":null}}},
  {"data": {"name": "units"}, "transform": [{"filter": "datum.impact === 'NonCarc' && indexof(datum.txt, '\\n') < 0"}], "mark": {"type": "text", "fontSize": 19, "lineHeight": 24, "lineBreak": "\n", "baseline": "bottom", "dy": 0}, "encoding": {"x": {"field":"col","type":"nominal","scale":{"type":"band","domain":["FP","FE","PP","PE","FuP","FuE","MP","FdE","O"],"paddingInner":0,"paddingOuter":0},"axis":null}, "y": {"datum": "u", "type": "nominal", "axis": {"title": ["Unit Impact", "(CTUh/kg)"], "labels": false, "ticks": false, "domain": false, "grid": false, "titleAngle": 0, "titleAlign": "center", "titleBaseline": "middle", "titleX": -114, "titleY": 37, "titleFont": "DejaVu Sans", "titleFontSize": 21, "titleLineHeight": 26, "titleFontWeight": "normal", "titleColor": "black"}}, "text": {"field": "txt"}}},
  {"data": {"name": "units"}, "transform": [{"filter": "datum.impact === 'NonCarc' && indexof(datum.txt, '\\n') >= 0"}], "mark": {"type": "text", "fontSize": 19, "lineHeight": 24, "lineBreak": "\n", "baseline": "bottom", "dy": -24}, "encoding": {"x": {"field":"col","type":"nominal","scale":{"type":"band","domain":["FP","FE","PP","PE","FuP","FuE","MP","FdE","O"],"paddingInner":0,"paddingOuter":0},"axis":null}, "y": {"datum": "u", "type": "nominal", "axis": {"title": ["Unit Impact", "(CTUh/kg)"], "labels": false, "ticks": false, "domain": false, "grid": false, "titleAngle": 0, "titleAlign": "center", "titleBaseline": "middle", "titleX": -114, "titleY": 37, "titleFont": "DejaVu Sans", "titleFontSize": 21, "titleLineHeight": 26, "titleFontWeight": "normal", "titleColor": "black"}}, "text": {"field": "txt"}}}
 ]},
{"width": 1395, "height": 307,
 "layer": [
  {"data": {"name": "bg"}, "mark": {"type": "rect"}, "encoding": {"x": {"field":"col","type":"nominal","scale":{"type":"band","domain":["FP","FE","PP","PE","FuP","FuE","MP","FdE","O"],"paddingInner":0,"paddingOuter":0},"axis":null}, "color": {"field":"grp","type":"nominal","scale":{"domain":["Fertilizer","Pesticide","Fuel","Machinery","Field","Other"],"range":["#e5f1e5","#e1e1fa","#f0e3f2","#fee0e2","#fdf1e4","#fffee5"]},"legend":null}}},
  {"data": {"name": "boxes"}, "transform": [{"filter": "datum.impact === 'Ecotox'"}],
   "encoding": {"x": {"field":"col","type":"nominal","scale":{"type":"band","domain":["FP","FE","PP","PE","FuP","FuE","MP","FdE","O"],"paddingInner":0,"paddingOuter":0},"axis":null}},
   "layer": [
    {"mark": {"type": "rule", "color": "black", "strokeWidth": 2.2}, "encoding": {"y": {"field": "lo", "type": "quantitative", "scale": {"domain": [-0.143, 3.006], "nice": false, "zero": false}, "axis": {"values": [0, 0.8, 1.6, 2.4], "format": ".1f", "title": ["Ecotox", "(CTUe)"], "grid": false, "domain": false, "tickColor": "black", "tickSize": 9, "tickWidth": 2, "labelColor": "black", "labelFont": "DejaVu Sans", "labelFontSize": 30, "labelPadding": 17, "labelOverlap": false, "titleFont": "DejaVu Sans", "titleFontSize": 29, "titleFontWeight": "normal", "titleColor": "black", "titlePadding": 22, "titleLineHeight": 34}}, "y2": {"field": "q1"}}},
    {"mark": {"type": "rule", "color": "black", "strokeWidth": 2.2}, "encoding": {"y": {"field": "q3", "type": "quantitative"}, "y2": {"field": "hi"}}},
    {"mark": {"type": "bar", "fill": "transparent", "stroke": "black", "strokeWidth": 2.2, "width": {"band": 0.5}}, "encoding": {"y": {"field": "q1", "type": "quantitative"}, "y2": {"field": "q3"}}},
    {"mark": {"type": "tick", "color": "black", "thickness": 2.2, "size": 40}, "encoding": {"y": {"field": "lo", "type": "quantitative"}}},
    {"mark": {"type": "tick", "color": "black", "thickness": 2.2, "size": 40}, "encoding": {"y": {"field": "hi", "type": "quantitative"}}},
    {"mark": {"type": "tick", "color": "#ff7f0e", "thickness": 2.2, "size": 77}, "encoding": {"y": {"field": "med", "type": "quantitative"}}}
   ]},
  {"data": {"name": "frame"}, "mark": {"type": "rect", "fill": "transparent", "stroke": "black", "strokeWidth": 2.5, "y2Offset": -1}, "encoding": {}}
 ]},
{"width": 1395, "height": 106,
 "layer": [
  {"data": {"name": "bg"}, "mark": {"type": "rect"}, "encoding": {"x": {"field":"col","type":"nominal","scale":{"type":"band","domain":["FP","FE","PP","PE","FuP","FuE","MP","FdE","O"],"paddingInner":0,"paddingOuter":0},"axis":null}, "color": {"field":"grp","type":"nominal","scale":{"domain":["Fertilizer","Pesticide","Fuel","Machinery","Field","Other"],"range":["#e5f1e5","#e1e1fa","#f0e3f2","#fee0e2","#fdf1e4","#fffee5"]},"legend":null}}},
  {"data": {"name": "units"}, "transform": [{"filter": "datum.impact === 'Ecotox' && indexof(datum.txt, '\\n') < 0"}], "mark": {"type": "text", "fontSize": 19, "lineHeight": 24, "lineBreak": "\n", "baseline": "bottom", "dy": 0}, "encoding": {"x": {"field":"col","type":"nominal","scale":{"type":"band","domain":["FP","FE","PP","PE","FuP","FuE","MP","FdE","O"],"paddingInner":0,"paddingOuter":0},"axis":null}, "y": {"datum": "u", "type": "nominal", "axis": {"title": ["Unit Impact", "(CTUe/kg)"], "labels": false, "ticks": false, "domain": false, "grid": false, "titleAngle": 0, "titleAlign": "center", "titleBaseline": "middle", "titleX": -114, "titleY": 37, "titleFont": "DejaVu Sans", "titleFontSize": 21, "titleLineHeight": 26, "titleFontWeight": "normal", "titleColor": "black"}}, "text": {"field": "txt"}}},
  {"data": {"name": "units"}, "transform": [{"filter": "datum.impact === 'Ecotox' && indexof(datum.txt, '\\n') >= 0"}], "mark": {"type": "text", "fontSize": 19, "lineHeight": 24, "lineBreak": "\n", "baseline": "bottom", "dy": -24}, "encoding": {"x": {"field":"col","type":"nominal","scale":{"type":"band","domain":["FP","FE","PP","PE","FuP","FuE","MP","FdE","O"],"paddingInner":0,"paddingOuter":0},"axis":null}, "y": {"datum": "u", "type": "nominal", "axis": {"title": ["Unit Impact", "(CTUe/kg)"], "labels": false, "ticks": false, "domain": false, "grid": false, "titleAngle": 0, "titleAlign": "center", "titleBaseline": "middle", "titleX": -114, "titleY": 37, "titleFont": "DejaVu Sans", "titleFontSize": 21, "titleLineHeight": 26, "titleFontWeight": "normal", "titleColor": "black"}}, "text": {"field": "txt"}}}
 ]}
]
}
